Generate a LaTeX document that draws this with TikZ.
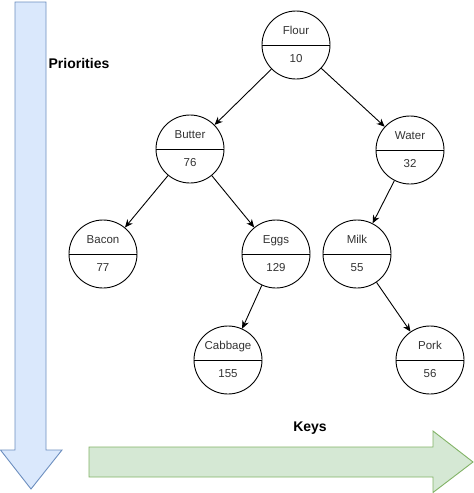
\documentclass[tikz,border=0pt]{standalone}
\usepackage{fontspec}
\setmainfont{Liberation Sans}
\usetikzlibrary{arrows.meta}
\definecolor{bluefill}{HTML}{DAE8FC}
\definecolor{bluedraw}{HTML}{6C8EBF}
\definecolor{greenfill}{HTML}{D5E8D4}
\definecolor{greendraw}{HTML}{82B366}
\definecolor{txt}{HTML}{333333}
\begin{document}
\begin{tikzpicture}[x=1pt,y=-1pt,
  keynode/.style={circle,draw=black,line width=0.9pt,minimum size=68pt,inner sep=0pt,fill=white},
  lbl/.style={anchor=base,inner sep=0pt,text=txt,font=\fontsize{11.5}{13}\selectfont},
  edge/.style={draw=black,line width=0.9pt,-{Stealth[length=8pt,width=7pt]}},
  title/.style={inner sep=0pt,text=black,font=\fontsize{14}{16}\selectfont\bfseries}]
\useasboundingbox (0,0) rectangle (474,493);
% big arrows
\draw[fill=bluefill,draw=bluedraw,line width=0.9pt]
  (15,2) -- (46,2) -- (46,450) -- (62,450) -- (31,489) -- (0.5,450) -- (15,450) -- cycle;
\draw[fill=greenfill,draw=greendraw,line width=0.9pt]
  (89,447) -- (433,447) -- (433,431) -- (473,462) -- (433,492.5) -- (433,477) -- (89,477) -- cycle;
\node[title] (prio) at (79,63) {Priorities};
\node[title] (keys) at (310,428) {Keys};
% tree nodes
\foreach \n/\x/\y/\k/\p in {flour/296/45/Flour/10, butter/190/149/Butter/76, water/410/150/Water/32,
  bacon/103/254/Bacon/77, eggs/276/254/Eggs/129, milk/357/254/Milk/55,
  cabbage/228/360/Cabbage/155, pork/430/360/Pork/56}{
  \node[keynode] (\n) at (\x,\y) {};
  \draw[line width=0.9pt] (\n.west) -- (\n.east);
  \node[lbl] (\n-k) at ([yshift=11pt]\n.center) {\k};
  \node[lbl] (\n-p) at ([yshift=-17pt]\n.center) {\p};
}
\draw[edge] (flour) -- (butter);
\draw[edge] (flour) -- (water);
\draw[edge] (butter) -- (bacon);
\draw[edge] (butter) -- (eggs);
\draw[edge] (eggs) -- (cabbage);
\draw[edge] (water) -- (milk);
\draw[edge] (milk) -- (pork);
\end{tikzpicture}
\end{document}
